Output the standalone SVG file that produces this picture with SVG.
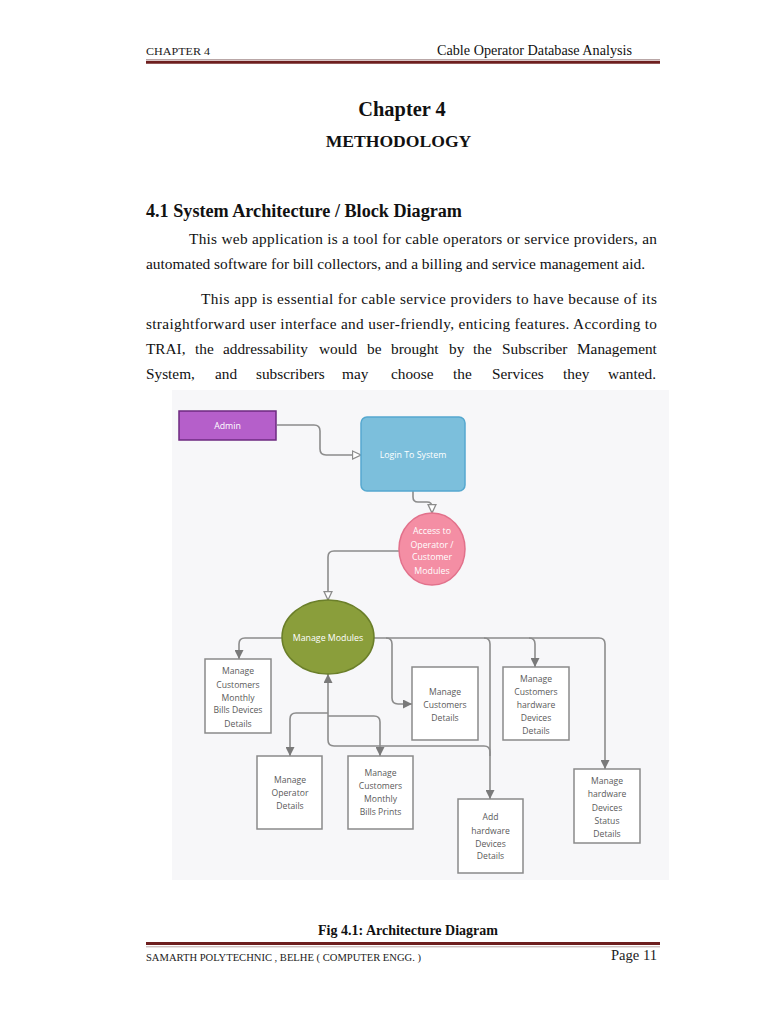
<svg xmlns="http://www.w3.org/2000/svg" width="768" height="1024" viewBox="0 0 768 1024">
<defs>
<style>
.doc{font-family:"Liberation Serif","Times New Roman",serif;fill:#111}
.hd{font-family:"Liberation Serif",serif;fill:#222}
.b{font-weight:bold}
.p{font-size:15.3px}
.lbl{font-family:"Open Sans","Noto Sans",sans-serif;font-size:8.6px;fill:#5a5a5a;text-anchor:middle}
.wl{font-family:"Open Sans","Noto Sans",sans-serif;font-size:8.8px;fill:#ffffff;text-anchor:middle}
.box{fill:#ffffff;stroke:#8a8a8a;stroke-width:1.5}
.con{fill:none;stroke:#8c8c8c;stroke-width:1.6}
</style>
<marker id="af" viewBox="0 0 10 10" refX="10" refY="5" markerWidth="9" markerHeight="9" markerUnits="userSpaceOnUse" orient="auto">
<path d="M0,0 L10,5 L0,10 z" fill="#7a7a7a"/>
</marker>
<marker id="ah" viewBox="0 0 10 10" refX="9.5" refY="5" markerWidth="10" markerHeight="10" markerUnits="userSpaceOnUse" orient="auto">
<path d="M1,1 L9.5,5 L1,9 z" fill="#ffffff" stroke="#8c8c8c" stroke-width="1.3"/>
</marker>
</defs>
<rect width="768" height="1024" fill="#ffffff"/>

<!-- header -->
<text class="hd" x="146" y="55" font-size="10.5" textLength="64" lengthAdjust="spacingAndGlyphs">CHAPTER 4</text>
<text class="doc" x="437" y="55" font-size="14" textLength="195" lengthAdjust="spacingAndGlyphs">Cable Operator Database Analysis</text>
<line x1="146" y1="59.5" x2="660" y2="59.5" stroke="#b9a7a7" stroke-width="1"/>
<line x1="146" y1="62.3" x2="660" y2="62.3" stroke="#6e1f1f" stroke-width="3"/>

<!-- titles -->
<text class="doc b" x="402" y="116" font-size="20.4" text-anchor="middle">Chapter 4</text>
<text class="doc b" x="398.5" y="147" font-size="17.6" text-anchor="middle">METHODOLOGY</text>
<text class="doc b" x="146" y="217" font-size="18" textLength="316" lengthAdjust="spacingAndGlyphs">4.1 System Architecture / Block Diagram</text>

<!-- paragraph -->
<text class="doc p" x="189" y="244" textLength="468" lengthAdjust="spacing">This web application is a tool for cable operators or service providers, an</text>
<text class="doc p" x="146" y="269" textLength="499" lengthAdjust="spacingAndGlyphs">automated software for bill collectors, and a billing and service management aid.</text>
<text class="doc p" x="201" y="304" textLength="456" lengthAdjust="spacing">This app is essential for cable service providers to have because of its</text>
<text class="doc p" x="146" y="329" textLength="511" lengthAdjust="spacing">straightforward user interface and user-friendly, enticing features. According to</text>
<g class="doc p">
<text x="146" y="354">TRAI,</text><text x="195" y="354">the</text><text x="223" y="354">addressability</text><text x="319" y="354">would</text><text x="367" y="354">be</text><text x="391" y="354">brought</text><text x="449" y="354">by</text><text x="473" y="354">the</text><text x="502" y="354">Subscriber</text><text x="577" y="354">Management</text>
</g>
<g class="doc p">
<text x="146" y="379">System,</text><text x="215" y="379">and</text><text x="256" y="379">subscribers</text><text x="342" y="379">may</text><text x="391" y="379">choose</text><text x="453" y="379">the</text><text x="492" y="379">Services</text><text x="563" y="379">they</text><text x="608" y="379">wanted.</text>
</g>

<!-- diagram background -->
<rect x="172" y="390" width="497" height="490" fill="#f7f7f9"/>

<!-- connectors -->
<g id="connectors">
<path class="con" d="M277,425 H314 Q320,425 320,431 V449 Q320,455 326,455 H361" marker-end="url(#ah)"/>
<path class="con" d="M413,491 V497 Q413,502 418,502 H427 Q432,502 432,507 V513" marker-end="url(#ah)"/>
<path class="con" d="M399,551 H334 Q328,551 328,557 V600" marker-end="url(#ah)"/>
<path class="con" d="M282,638 H245 Q239,638 239,644 V659" marker-end="url(#af)"/>
<path class="con" d="M374,638 H599 Q605,638 605,644 V769" marker-end="url(#af)"/>
<path class="con" d="M386,638 Q392,638 392,644 V698 Q392,704 398,704 H412" marker-end="url(#af)"/>
<path class="con" d="M484,638 Q490,638 490,644 V799" marker-end="url(#af)"/>
<path class="con" d="M529,638 Q535,638 535,644 V667" marker-end="url(#af)"/>
<path class="con" d="M490,756 V752 Q490,746 484,746 H334 Q328,746 328,740 V674" marker-end="url(#af)"/>
<path class="con" d="M328,713 H296 Q290,713 290,719 V756" marker-end="url(#af)"/>
<path class="con" d="M328,716 H374 Q380,716 380,722 V756" marker-end="url(#af)"/>
</g>

<!-- nodes -->
<g id="admin">
<rect x="179" y="411" width="97" height="29" fill="#b55fca" stroke="#6e2a80" stroke-width="1.5"/>
<text class="wl" x="227.5" y="428.5">Admin</text>
</g>
<g id="login">
<rect x="361" y="417" width="104" height="74" rx="6" fill="#7cbfdc" stroke="#55a8cf" stroke-width="1.5"/>
<text class="wl" x="413" y="458">Login To System</text>
</g>
<g id="access">
<ellipse cx="432" cy="549" rx="33" ry="36" fill="#f48ea4" stroke="#e2718b" stroke-width="1.5"/>
<text class="wl" x="432" y="534">Access to</text>
<text class="wl" x="432" y="548">Operator /</text>
<text class="wl" x="432" y="560">Customer</text>
<text class="wl" x="432" y="574">Modules</text>
</g>
<g id="manage-modules">
<ellipse cx="328" cy="637" rx="46" ry="37" fill="#8a9e3b" stroke="#6b7f2a" stroke-width="1.5"/>
<text class="wl" x="328" y="641">Manage Modules</text>
</g>
<g id="b1">
<rect class="box" x="205" y="659" width="66" height="74"/>
<text class="lbl" x="238" y="674">Manage</text>
<text class="lbl" x="238" y="687.5">Customers</text>
<text class="lbl" x="238" y="700.5">Monthly</text>
<text class="lbl" x="238" y="713">Bills Devices</text>
<text class="lbl" x="238" y="726.5">Details</text>
</g>
<g id="b2">
<rect class="box" x="412" y="667" width="66" height="73"/>
<text class="lbl" x="445" y="695">Manage</text>
<text class="lbl" x="445" y="707.5">Customers</text>
<text class="lbl" x="445" y="721">Details</text>
</g>
<g id="b3">
<rect class="box" x="503" y="667" width="66" height="73"/>
<text class="lbl" x="536" y="681.5">Manage</text>
<text class="lbl" x="536" y="695">Customers</text>
<text class="lbl" x="536" y="707.5">hardware</text>
<text class="lbl" x="536" y="721">Devices</text>
<text class="lbl" x="536" y="734">Details</text>
</g>
<g id="b4">
<rect class="box" x="257" y="756" width="65" height="73"/>
<text class="lbl" x="290" y="782.5">Manage</text>
<text class="lbl" x="290" y="795.5">Operator</text>
<text class="lbl" x="290" y="809">Details</text>
</g>
<g id="b5">
<rect class="box" x="348" y="756" width="65" height="73"/>
<text class="lbl" x="380.5" y="776">Manage</text>
<text class="lbl" x="380.5" y="789">Customers</text>
<text class="lbl" x="380.5" y="802">Monthly</text>
<text class="lbl" x="380.5" y="815">Bills Prints</text>
</g>
<g id="b6">
<rect class="box" x="458" y="799" width="65" height="74"/>
<text class="lbl" x="490.5" y="820">Add</text>
<text class="lbl" x="490.5" y="834">hardware</text>
<text class="lbl" x="490.5" y="846.5">Devices</text>
<text class="lbl" x="490.5" y="859">Details</text>
</g>
<g id="b7">
<rect class="box" x="574" y="769" width="66" height="74"/>
<text class="lbl" x="607" y="784">Manage</text>
<text class="lbl" x="607" y="797">hardware</text>
<text class="lbl" x="607" y="810.5">Devices</text>
<text class="lbl" x="607" y="824">Status</text>
<text class="lbl" x="607" y="837">Details</text>
</g>

<!-- caption & footer -->
<text class="doc b" x="408" y="935" font-size="14" text-anchor="middle">Fig 4.1: Architecture Diagram</text>
<line x1="146" y1="943.5" x2="660" y2="943.5" stroke="#6e1f1f" stroke-width="3"/>
<line x1="146" y1="946.8" x2="660" y2="946.8" stroke="#b9a7a7" stroke-width="1"/>
<text class="hd" x="146" y="961" font-size="10" textLength="275" lengthAdjust="spacingAndGlyphs">SAMARTH POLYTECHNIC , BELHE ( COMPUTER ENGG. )</text>
<text class="hd" x="611" y="960" font-size="14" textLength="46" lengthAdjust="spacingAndGlyphs">Page 11</text>
</svg>
